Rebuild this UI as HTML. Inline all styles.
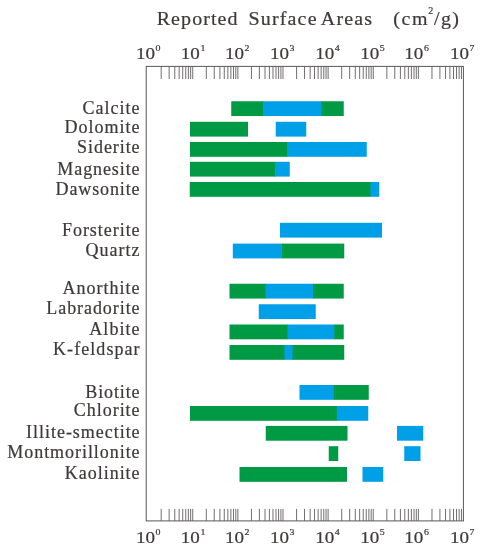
<!DOCTYPE html><html><head><meta charset="utf-8"><title>Reported Surface Areas</title><style>html,body{margin:0;padding:0;background:#fff}body{width:481px;height:550px;overflow:hidden}</style></head><body><svg width="481" height="550" viewBox="0 0 481 550" style="display:block">
<rect width="481" height="550" fill="#fff"/>
<rect x="231.25" y="101.25" width="32.35" height="14.8" fill="#009944"/>
<rect x="263" y="101.25" width="58.85" height="14.8" fill="#00a0e9"/>
<rect x="321.25" y="101.25" width="22.50" height="14.8" fill="#009944"/>
<rect x="190" y="121.8" width="58.00" height="14.8" fill="#009944"/>
<rect x="275.75" y="121.8" width="30.50" height="14.8" fill="#00a0e9"/>
<rect x="190" y="142.0" width="97.60" height="14.8" fill="#009944"/>
<rect x="287" y="142.0" width="79.75" height="14.8" fill="#00a0e9"/>
<rect x="190" y="161.8" width="85.60" height="14.8" fill="#009944"/>
<rect x="275" y="161.8" width="14.75" height="14.8" fill="#00a0e9"/>
<rect x="189.75" y="182.0" width="181.35" height="14.8" fill="#009944"/>
<rect x="370.5" y="182.0" width="8.75" height="14.8" fill="#00a0e9"/>
<rect x="280" y="222.8" width="102.00" height="14.8" fill="#00a0e9"/>
<rect x="232.8" y="243.6" width="49.80" height="14.8" fill="#00a0e9"/>
<rect x="282" y="243.6" width="62.25" height="14.8" fill="#009944"/>
<rect x="229.5" y="283.75" width="36.60" height="14.8" fill="#009944"/>
<rect x="265.5" y="283.75" width="48.10" height="14.8" fill="#00a0e9"/>
<rect x="313" y="283.75" width="30.75" height="14.8" fill="#009944"/>
<rect x="258.75" y="304.25" width="57.00" height="14.8" fill="#00a0e9"/>
<rect x="229.5" y="324.5" width="58.60" height="14.8" fill="#009944"/>
<rect x="287.5" y="324.5" width="47.35" height="14.8" fill="#00a0e9"/>
<rect x="334.25" y="324.5" width="9.50" height="14.8" fill="#009944"/>
<rect x="229.5" y="345" width="55.60" height="14.8" fill="#009944"/>
<rect x="284.5" y="345" width="8.60" height="14.8" fill="#00a0e9"/>
<rect x="292.5" y="345" width="51.75" height="14.8" fill="#009944"/>
<rect x="299.5" y="385" width="34.85" height="14.8" fill="#00a0e9"/>
<rect x="333.75" y="385" width="35.00" height="14.8" fill="#009944"/>
<rect x="190" y="406" width="147.35" height="14.8" fill="#009944"/>
<rect x="336.75" y="406" width="31.50" height="14.8" fill="#00a0e9"/>
<rect x="265.75" y="425.9" width="81.75" height="14.8" fill="#009944"/>
<rect x="397" y="425.9" width="26.25" height="14.8" fill="#00a0e9"/>
<rect x="328.75" y="446.2" width="9.50" height="14.8" fill="#009944"/>
<rect x="404.25" y="446.2" width="16.25" height="14.8" fill="#00a0e9"/>
<rect x="239.5" y="467.0" width="107.50" height="14.8" fill="#009944"/>
<rect x="362.5" y="467.0" width="20.75" height="14.8" fill="#00a0e9"/>
<rect x="146.2" y="66.4" width="317.20" height="454.50" fill="none" stroke="#595757" stroke-width="1"/>
<path d="M161.19 66.4V79.0M161.19 520.9V508.9M169.13 66.4V79.0M169.13 520.9V508.9M174.77 66.4V79.0M174.77 520.9V508.9M179.14 66.4V79.0M179.14 520.9V508.9M182.72 66.4V79.0M182.72 520.9V508.9M185.74 66.4V79.0M185.74 520.9V508.9M188.36 66.4V79.0M188.36 520.9V508.9M190.66 66.4V79.0M190.66 520.9V508.9M192.73 66.4V79.0M192.73 520.9V508.9M206.32 66.4V79.0M206.32 520.9V508.9M214.26 66.4V79.0M214.26 520.9V508.9M219.90 66.4V79.0M219.90 520.9V508.9M224.27 66.4V79.0M224.27 520.9V508.9M227.85 66.4V79.0M227.85 520.9V508.9M230.87 66.4V79.0M230.87 520.9V508.9M233.49 66.4V79.0M233.49 520.9V508.9M235.79 66.4V79.0M235.79 520.9V508.9M237.86 66.4V79.0M237.86 520.9V508.9M251.45 66.4V79.0M251.45 520.9V508.9M259.39 66.4V79.0M259.39 520.9V508.9M265.03 66.4V79.0M265.03 520.9V508.9M269.40 66.4V79.0M269.40 520.9V508.9M272.98 66.4V79.0M272.98 520.9V508.9M276.00 66.4V79.0M276.00 520.9V508.9M278.62 66.4V79.0M278.62 520.9V508.9M280.92 66.4V79.0M280.92 520.9V508.9M282.99 66.4V79.0M282.99 520.9V508.9M296.58 66.4V79.0M296.58 520.9V508.9M304.52 66.4V79.0M304.52 520.9V508.9M310.16 66.4V79.0M310.16 520.9V508.9M314.53 66.4V79.0M314.53 520.9V508.9M318.11 66.4V79.0M318.11 520.9V508.9M321.13 66.4V79.0M321.13 520.9V508.9M323.75 66.4V79.0M323.75 520.9V508.9M326.05 66.4V79.0M326.05 520.9V508.9M328.12 66.4V79.0M328.12 520.9V508.9M341.71 66.4V79.0M341.71 520.9V508.9M349.65 66.4V79.0M349.65 520.9V508.9M355.29 66.4V79.0M355.29 520.9V508.9M359.66 66.4V79.0M359.66 520.9V508.9M363.24 66.4V79.0M363.24 520.9V508.9M366.26 66.4V79.0M366.26 520.9V508.9M368.88 66.4V79.0M368.88 520.9V508.9M371.18 66.4V79.0M371.18 520.9V508.9M373.25 66.4V79.0M373.25 520.9V508.9M386.84 66.4V79.0M386.84 520.9V508.9M394.78 66.4V79.0M394.78 520.9V508.9M400.42 66.4V79.0M400.42 520.9V508.9M404.79 66.4V79.0M404.79 520.9V508.9M408.37 66.4V79.0M408.37 520.9V508.9M411.39 66.4V79.0M411.39 520.9V508.9M414.01 66.4V79.0M414.01 520.9V508.9M416.31 66.4V79.0M416.31 520.9V508.9M418.38 66.4V79.0M418.38 520.9V508.9M431.97 66.4V79.0M431.97 520.9V508.9M439.91 66.4V79.0M439.91 520.9V508.9M445.55 66.4V79.0M445.55 520.9V508.9M449.92 66.4V79.0M449.92 520.9V508.9M453.50 66.4V79.0M453.50 520.9V508.9M456.52 66.4V79.0M456.52 520.9V508.9M459.14 66.4V79.0M459.14 520.9V508.9M461.44 66.4V79.0M461.44 520.9V508.9" stroke="#625f5f" stroke-width="0.9" fill="none"/>
<g font-family="'Liberation Serif', serif" fill="#3e3a39" stroke="#3e3a39" stroke-width="0.22">
<text x="82.5" y="114" font-size="18" textLength="57.1" lengthAdjust="spacing">Calcite</text>
<text x="64.5" y="133" font-size="18" textLength="75.1" lengthAdjust="spacing">Dolomite</text>
<text x="77.1" y="153.3" font-size="18" textLength="62.5" lengthAdjust="spacing">Siderite</text>
<text x="57.3" y="175" font-size="18" textLength="82.3" lengthAdjust="spacing">Magnesite</text>
<text x="55.6" y="194.5" font-size="18" textLength="84.0" lengthAdjust="spacing">Dawsonite</text>
<text x="62.0" y="235.7" font-size="18" textLength="77.6" lengthAdjust="spacing">Forsterite</text>
<text x="85.5" y="255.7" font-size="18" textLength="54.1" lengthAdjust="spacing">Quartz</text>
<text x="62.5" y="293.7" font-size="18" textLength="77.1" lengthAdjust="spacing">Anorthite</text>
<text x="46.3" y="313.7" font-size="18" textLength="93.3" lengthAdjust="spacing">Labradorite</text>
<text x="89.3" y="334.8" font-size="18" textLength="50.3" lengthAdjust="spacing">Albite</text>
<text x="53.0" y="354.5" font-size="18" textLength="86.6" lengthAdjust="spacing">K-feldspar</text>
<text x="85.3" y="397.5" font-size="18" textLength="54.3" lengthAdjust="spacing">Biotite</text>
<text x="73.8" y="415.8" font-size="18" textLength="65.8" lengthAdjust="spacing">Chlorite</text>
<text x="26.1" y="438.4" font-size="18" textLength="113.5" lengthAdjust="spacing">Illite-smectite</text>
<text x="7.3" y="458.3" font-size="18" textLength="132.3" lengthAdjust="spacing">Montmorillonite</text>
<text x="64.8" y="479.3" font-size="18" textLength="74.8" lengthAdjust="spacing">Kaolinite</text>
<text transform="translate(135.90,59.4) scale(1.09,1)" font-size="17.5">10</text>
<text transform="translate(155.50,51.20) scale(1.1,1)" font-size="9">0</text>
<text transform="translate(135.90,543.1) scale(1.09,1)" font-size="17.5">10</text>
<text transform="translate(155.50,534.90) scale(1.1,1)" font-size="9">0</text>
<text transform="translate(180.80,59.4) scale(1.09,1)" font-size="17.5">10</text>
<text transform="translate(200.40,51.20) scale(1.1,1)" font-size="9">1</text>
<text transform="translate(180.80,543.1) scale(1.09,1)" font-size="17.5">10</text>
<text transform="translate(200.40,534.90) scale(1.1,1)" font-size="9">1</text>
<text transform="translate(225.00,59.4) scale(1.09,1)" font-size="17.5">10</text>
<text transform="translate(244.60,51.20) scale(1.1,1)" font-size="9">2</text>
<text transform="translate(225.00,543.1) scale(1.09,1)" font-size="17.5">10</text>
<text transform="translate(244.60,534.90) scale(1.1,1)" font-size="9">2</text>
<text transform="translate(269.90,59.4) scale(1.09,1)" font-size="17.5">10</text>
<text transform="translate(289.50,51.20) scale(1.1,1)" font-size="9">3</text>
<text transform="translate(269.90,543.1) scale(1.09,1)" font-size="17.5">10</text>
<text transform="translate(289.50,534.90) scale(1.1,1)" font-size="9">3</text>
<text transform="translate(315.20,59.4) scale(1.09,1)" font-size="17.5">10</text>
<text transform="translate(334.80,51.20) scale(1.1,1)" font-size="9">4</text>
<text transform="translate(315.20,543.1) scale(1.09,1)" font-size="17.5">10</text>
<text transform="translate(334.80,534.90) scale(1.1,1)" font-size="9">4</text>
<text transform="translate(360.15,59.4) scale(1.09,1)" font-size="17.5">10</text>
<text transform="translate(379.75,51.20) scale(1.1,1)" font-size="9">5</text>
<text transform="translate(360.15,543.1) scale(1.09,1)" font-size="17.5">10</text>
<text transform="translate(379.75,534.90) scale(1.1,1)" font-size="9">5</text>
<text transform="translate(404.30,59.4) scale(1.09,1)" font-size="17.5">10</text>
<text transform="translate(423.90,51.20) scale(1.1,1)" font-size="9">6</text>
<text transform="translate(404.30,543.1) scale(1.09,1)" font-size="17.5">10</text>
<text transform="translate(423.90,534.90) scale(1.1,1)" font-size="9">6</text>
<text transform="translate(450.00,59.4) scale(1.09,1)" font-size="17.5">10</text>
<text transform="translate(469.60,51.20) scale(1.1,1)" font-size="9">7</text>
<text transform="translate(450.00,543.1) scale(1.09,1)" font-size="17.5">10</text>
<text transform="translate(469.60,534.90) scale(1.1,1)" font-size="9">7</text>
<text transform="translate(156.7,24.9) scale(1.05,1)" font-size="19" textLength="77.0" lengthAdjust="spacing">Reported</text>
<text transform="translate(248.5,24.9) scale(1.05,1)" font-size="19" textLength="64.8" lengthAdjust="spacing">Surface</text>
<text transform="translate(320.8,24.9) scale(1.05,1)" font-size="19" textLength="48.9" lengthAdjust="spacing">Areas</text>
<text transform="translate(393.3,24.9) scale(1.05,1)" font-size="19" textLength="32.7" lengthAdjust="spacing">(cm</text>
<text transform="translate(434.1,24.9) scale(1.05,1)" font-size="19" textLength="23.6" lengthAdjust="spacing">/g)</text>
<text x="428.3" y="14.4" font-size="10">2</text>
</g></svg></body></html>
